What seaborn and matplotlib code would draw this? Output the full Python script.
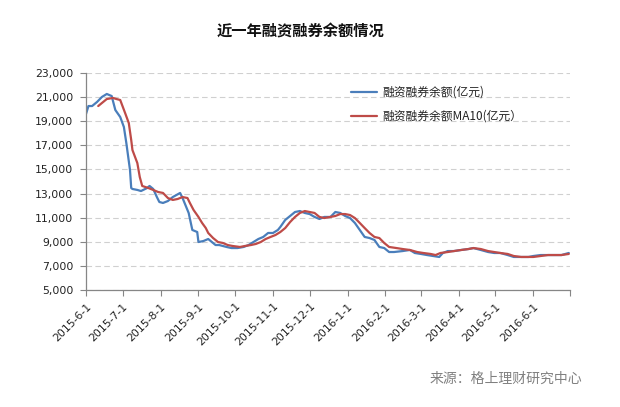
import matplotlib
matplotlib.use("Agg")
import matplotlib.pyplot as plt
import seaborn as sns
import pandas as pd

# ---- data ----
balance_dates = [
    "2015-06-01", "2015-06-03", "2015-06-06", "2015-06-10", "2015-06-14", "2015-06-18",
    "2015-06-22", "2015-06-25", "2015-06-29", "2015-07-02", "2015-07-04", "2015-07-07",
    "2015-07-08", "2015-07-09", "2015-07-13", "2015-07-16", "2015-07-21", "2015-07-23",
    "2015-07-26", "2015-07-29", "2015-07-31", "2015-08-03", "2015-08-07", "2015-08-11",
    "2015-08-17", "2015-08-19", "2015-08-24", "2015-08-27", "2015-08-31", "2015-09-01",
    "2015-09-05", "2015-09-09", "2015-09-12", "2015-09-15", "2015-09-18", "2015-09-24",
    "2015-09-28", "2015-10-03", "2015-10-08", "2015-10-12", "2015-10-16", "2015-10-20",
    "2015-10-24", "2015-10-28", "2015-11-01", "2015-11-05", "2015-11-07", "2015-11-11",
    "2015-11-15", "2015-11-19", "2015-11-23", "2015-11-27", "2015-12-01", "2015-12-05",
    "2015-12-09", "2015-12-13", "2015-12-18", "2015-12-22", "2015-12-26", "2015-12-30",
    "2016-01-03", "2016-01-07", "2016-01-11", "2016-01-15", "2016-01-19", "2016-01-23",
    "2016-01-27", "2016-01-31", "2016-02-04", "2016-02-08", "2016-02-15", "2016-02-21",
    "2016-02-25", "2016-03-01", "2016-03-06", "2016-03-11", "2016-03-16", "2016-03-19",
    "2016-03-23", "2016-03-28", "2016-04-03", "2016-04-09", "2016-04-13", "2016-04-19",
    "2016-04-25", "2016-04-30", "2016-05-05", "2016-05-11", "2016-05-16", "2016-05-22",
    "2016-05-28", "2016-06-01", "2016-06-07", "2016-06-13", "2016-06-18", "2016-06-24",
    "2016-06-30",
]
balance_values = [
    19600, 20260, 20260, 20595, 21010, 21260,
    21090, 19930, 19350, 18520, 17190, 14950,
    13460, 13380, 13300, 13210, 13460, 13630,
    13380, 12710, 12300, 12220, 12380, 12710,
    13050, 12630, 11390, 9980, 9810, 8980,
    9060, 9230, 8980, 8730, 8730, 8570,
    8480, 8480, 8570, 8730, 8980, 9230,
    9400, 9730, 9730, 9980, 10230, 10810,
    11140, 11470, 11550, 11390, 11300, 11060,
    10890, 11060, 11060, 11470, 11390, 11140,
    10970, 10560, 9980, 9400, 9310, 9150,
    8570, 8480, 8150, 8150, 8230, 8320,
    8070, 7990, 7900, 7820, 7740, 8070,
    8230, 8230, 8320, 8400, 8480, 8320,
    8150, 8070, 8070, 7900, 7740, 7740,
    7740, 7820, 7900, 7900, 7900, 7900,
    8070,
]

ma10_dates = [
    "2015-06-11", "2015-06-14", "2015-06-18", "2015-06-23", "2015-06-26", "2015-06-29",
    "2015-07-03", "2015-07-06", "2015-07-08", "2015-07-09", "2015-07-13", "2015-07-15",
    "2015-07-17", "2015-07-22", "2015-07-26", "2015-07-30", "2015-08-03", "2015-08-07",
    "2015-08-11", "2015-08-15", "2015-08-19", "2015-08-23", "2015-08-25", "2015-08-28",
    "2015-09-01", "2015-09-04", "2015-09-07", "2015-09-09", "2015-09-13", "2015-09-17",
    "2015-09-21", "2015-09-25", "2015-09-29", "2015-10-05", "2015-10-09", "2015-10-14",
    "2015-10-18", "2015-10-22", "2015-10-26", "2015-10-30", "2015-11-03", "2015-11-07",
    "2015-11-11", "2015-11-15", "2015-11-19", "2015-11-23", "2015-11-27", "2015-12-01",
    "2015-12-05", "2015-12-09", "2015-12-13", "2015-12-18", "2015-12-22", "2015-12-26",
    "2015-12-30", "2016-01-03", "2016-01-07", "2016-01-11", "2016-01-15", "2016-01-19",
    "2016-01-23", "2016-01-27", "2016-01-31", "2016-02-04", "2016-02-10", "2016-02-15",
    "2016-02-21", "2016-02-27", "2016-03-03", "2016-03-09", "2016-03-13", "2016-03-17",
    "2016-03-23", "2016-03-28", "2016-04-03", "2016-04-09", "2016-04-13", "2016-04-19",
    "2016-04-25", "2016-04-30", "2016-05-05", "2016-05-11", "2016-05-16", "2016-05-22",
    "2016-05-28", "2016-06-01", "2016-06-07", "2016-06-13", "2016-06-18", "2016-06-24",
    "2016-06-30",
]
ma10_values = [
    20260, 20510, 20840, 20930, 20840, 20760,
    19680, 18850, 17440, 16610, 15530, 14370,
    13630, 13460, 13300, 13130, 13050, 12630,
    12470, 12550, 12710, 12630, 12220, 11640,
    11060, 10560, 10140, 9730, 9310, 8980,
    8900, 8730, 8650, 8570, 8650, 8730,
    8820, 8980, 9230, 9400, 9560, 9810,
    10140, 10640, 11060, 11390, 11550, 11470,
    11390, 11060, 10970, 11060, 11140, 11300,
    11300, 11220, 10970, 10560, 10140, 9730,
    9400, 9310, 8900, 8570, 8480, 8400,
    8320, 8150, 8070, 7990, 7900, 8070,
    8150, 8230, 8320, 8400, 8480, 8400,
    8230, 8150, 8070, 7990, 7820, 7740,
    7740, 7740, 7820, 7900, 7900, 7900,
    7990,
]

tick_dates = ["2015-06-01", "2015-07-01", "2015-08-01", "2015-09-01", "2015-10-01",
              "2015-11-01", "2015-12-01", "2016-01-01", "2016-02-01", "2016-03-01",
              "2016-04-01", "2016-05-01", "2016-06-01", "2016-07-01"]
tick_labels = ["2015-6-1", "2015-7-1", "2015-8-1", "2015-9-1", "2015-10-1",
               "2015-11-1", "2015-12-1", "2016-1-1", "2016-2-1", "2016-3-1",
               "2016-4-1", "2016-5-1", "2016-6-1", ""]
y_ticks = [5000, 7000, 9000, 11000, 13000, 15000, 17000, 19000, 21000, 23000]

title = "近一年融资融券余额情况"
series_names = ["融资融券余额(亿元)", "融资融券余额MA10(亿元）"]
source = "来源：格上理财研究中心"

# ---- styling ----
sns.set_theme(style="white")
plt.rcParams["font.family"] = ["DejaVu Sans", "Noto Sans CJK SC"]
cjk = ["Noto Sans CJK SC", "DejaVu Sans"]

blue = "#4A7EBB"
red = "#BE4B48"
axis_gray = "#868686"

df_bal = pd.DataFrame({"date": pd.to_datetime(balance_dates), "value": balance_values})
df_ma = pd.DataFrame({"date": pd.to_datetime(ma10_dates), "value": ma10_values})

fig = plt.figure(figsize=(6.2, 4.07), dpi=100)
ax = fig.add_axes([86 / 620, 1 - 290 / 407, (570 - 86) / 620, (290 - 73) / 407])

sns.lineplot(data=df_bal, x="date", y="value", ax=ax, color=blue, linewidth=1.6,
             label=series_names[0])
sns.lineplot(data=df_ma, x="date", y="value", ax=ax, color=red, linewidth=1.6,
             label=series_names[1])

ax.set_xlim(pd.Timestamp("2015-06-01"), pd.Timestamp("2016-07-01"))
ax.set_ylim(5000, 23000)
ax.set_yticks(y_ticks)
ax.set_yticklabels([f"{v:,}" for v in y_ticks], fontsize=7.8, color="#222222")
ax.set_xticks(pd.to_datetime(tick_dates))
ax.set_xticklabels(tick_labels, rotation=45, ha="right", rotation_mode="anchor",
                   fontsize=7.8, color="#222222")
ax.set_xlabel("")
ax.set_ylabel("")

ax.yaxis.grid(True, linestyle=(0, (5, 3)), color="#d0d0d0", linewidth=0.8)
ax.xaxis.grid(False)
for s in ["top", "right"]:
    ax.spines[s].set_visible(False)
for s in ["left", "bottom"]:
    ax.spines[s].set_color(axis_gray)
    ax.spines[s].set_linewidth(0.9)
ax.tick_params(axis="both", which="major", direction="out", length=4, width=0.8,
               color=axis_gray, left=True, bottom=True)
ax.tick_params(axis="y", pad=5)
ax.tick_params(axis="x", pad=4)

leg = ax.legend(loc="upper left", bbox_to_anchor=(0.525, 0.99), frameon=False,
                prop={"family": cjk, "size": 8.5}, handlelength=2.2,
                labelspacing=0.95, handletextpad=0.45)
for t in leg.get_texts():
    t.set_color("#222222")

fig.text(0.485, 1 - 32 / 407, title, ha="center", va="center", fontsize=11,
         fontweight="bold", family=cjk, color="#111111")
fig.text(582 / 620, 1 - 379 / 407, source, ha="right", va="center", fontsize=10,
         family=cjk, color="#808080")

fig.savefig("out.png", dpi=100, facecolor="white")
